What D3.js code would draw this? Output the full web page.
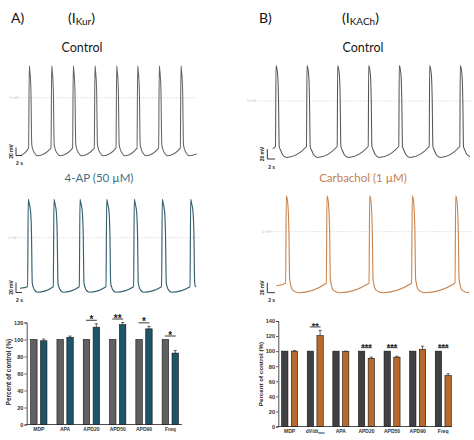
<!DOCTYPE html>
<html><head><meta charset="utf-8">
<script src="https://cdn.jsdelivr.net/npm/d3@7"></script>
<style>body{margin:0;background:#fff}svg{display:block}</style>
</head><body>
<svg id="c" width="474" height="440"></svg>
<script>
// ---------- bar chart data ----------
const barCatsA = ["MDP","APA","APD20","APD50","APD90","Freq"];
const ctrlA = [100,100,100,100,100,100];
const drugA = [98.5,102.5,114.5,117.5,112.5,84];
const drugErrA = [2,1.5,4,2.5,3,3];
const sigA = ["","","*","**","*","*"];
const yTicksA = [0,20,40,60,80,100,120];

const barCatsB = ["MDP","dV/dt","APA","APD20","APD50","APD90","Freq"];
const ctrlB = [100,100,100,100,100,100,100];
const drugB = [100,120.5,99.5,90.5,92,102.5,67.5];
const drugErrB = [0.7,7,0.6,1.5,1.2,4,2.5];
const sigB = ["","**","","***","***","","***"];
const yTicksB = [0,20,40,60,80,100,120,140];

// ---------- trace data (time s, membrane potential mV read against each 20 mV bar) ----------
const ctrlA_spikes = [2.63,10.1,17.3,24.53,31.77,38.77,45.97,53.2];
const ctrlA_shape = [[0,-126],[0.23,80],[0.43,66],[0.77,22],[1.05,-116],[1.33,-127],[2.0,-138],[3.0,-145]];
const ctrlA_ends = [-145,-141];
const apA_spikes = [2.53,11.1,19.77,28.67,37.87,47.2,56.67];
const apA_shape = [[0,-98],[0.23,77],[0.55,68],[1.0,52],[1.3,8],[1.55,-90],[1.83,-98],[2.33,-105],[3.33,-109]];
const apA_ends = [-101,-96];
const ctrlB_spikes = [0.73,8.78,16.75,24.81,32.75,40.65,48.6];
const ctrlB_shape = [[0,-91],[0.13,71],[0.57,52],[0.78,2],[0.96,-91],[1.3,-98],[1.82,-107],[2.86,-113]];
const ctrlB_ends = [-95,-111];
const cchB_spikes = [2.42,12.99,24.08,35.14,46.42];
const cchB_shape = [[0,-103],[0.18,72],[0.52,60],[0.86,0],[1.04,-93],[1.22,-103],[1.82,-117],[3.38,-122]];
const cchB_ends = [-108,-120];

const svg = d3.select("#c");
svg.append("rect").attr("width",474).attr("height",440).attr("fill","#fff");

const HF = "Lato, 'Open Sans', sans-serif";
const AF = "'Liberation Sans', Arial, sans-serif";

// ---------- headings ----------
function heading(x, letter, sub, lx) {
  svg.append("text").attr("x", x).attr("y", 23).attr("font-family", HF).attr("font-size", 14)
    .attr("fill", "#111").text(letter);
  const t = svg.append("text").attr("x", lx).attr("y", 23).attr("font-family", HF)
    .attr("font-size", 14).attr("fill", "#111");
  t.append("tspan").text("(I");
  t.append("tspan").attr("font-size", 10).attr("dy", 2).text(sub);
  t.append("tspan").attr("dy", -2).text(")");
}
heading(11, "A)", "Kur", 68);
heading(259, "B)", "KACh", 342);

function title(x, y, txt, color) {
  svg.append("text").attr("x", x).attr("y", y).attr("text-anchor", "middle")
    .attr("font-family", HF).attr("font-size", txt === "Control" ? 12.5 : 11.5)
    .attr("fill", color).text(txt);
}
title(82, 52, "Control", "#1a1a1a");
title(363, 52, "Control", "#1a1a1a");
title(99, 182, "4-AP (50 \u00B5M)", "#3e6f85");
title(363, 182, "Carbachol (1 \u00B5M)", "#c4814f");

// ---------- traces ----------
function drawTrace(o) {
  const dur = o.dur;
  const x = d3.scaleLinear().domain([0, dur]).range([o.x0, o.x0 + dur * o.pxPerSec]);
  const y = d3.scaleLinear().domain([0, 20]).range([o.zeroY, o.zeroY - o.barPx]);
  const pts = [[0, o.ends[0]]];
  o.spikes.forEach(ts => o.shape.forEach(([dt, v]) => { if (ts + dt < dur - 0.01) pts.push([ts + dt, v]); }));
  pts.push([dur, o.ends[1]]);
  // 0 mV reference
  svg.append("line").attr("x1", o.zl[0]).attr("x2", o.zl[1]).attr("y1", y(0)).attr("y2", y(0))
    .attr("stroke", "#d0d0d0").attr("stroke-width", 0.8).attr("stroke-dasharray", "1.5,1.5");
  svg.append("text").attr("x", o.zlx).attr("y", y(0) + 1.4).attr("font-family", AF)
    .attr("font-size", 3.8).attr("fill", "#c8c8c8").text("0 mV");
  // trace
  svg.append("path").datum(pts)
    .attr("d", d3.line().x(d => x(d[0])).y(d => y(d[1])).curve(d3.curveMonotoneX))
    .attr("fill", "none").attr("stroke", o.color).attr("stroke-width", o.sw).attr("stroke-linejoin", "round");
  // scale bar 20 mV / 2 s
  const cx = o.bar[0], cy = o.bar[1];
  const vLen = y(0) - y(20), hLen = x(2) - x(0);
  svg.append("path").attr("d", `M${cx},${cy - vLen}V${cy}H${cx + hLen}`)
    .attr("fill", "none").attr("stroke", "#222").attr("stroke-width", 0.9);
  svg.append("text").attr("transform", `translate(${cx - 3.2},${cy - vLen / 2}) rotate(-90)`)
    .attr("text-anchor", "middle").attr("font-family", AF).attr("font-weight", "bold")
    .attr("font-size", 5).attr("fill", "#222").text("20 mV");
  svg.append("text").attr("x", cx + hLen / 2 + 0.5).attr("y", cy + 9.5).attr("text-anchor", "middle")
    .attr("font-family", AF).attr("font-weight", "bold").attr("font-size", 5).attr("fill", "#222").text("2 s");
}

drawTrace({x0: 20.7, pxPerSec: 3, dur: 58.67, zeroY: 97.7, barPx: 8, spikes: ctrlA_spikes, shape: ctrlA_shape,
  ends: ctrlA_ends, color: "#636363", sw: 1.05, zl: [17, 197], zlx: 9.5, bar: [16, 155.5]});
drawTrace({x0: 20, pxPerSec: 3, dur: 58.57, zeroY: 237.7, barPx: 10, spikes: apA_spikes, shape: apA_shape,
  ends: apA_ends, color: "#35606f", sw: 1.15, zl: [15, 200], zlx: 8, bar: [16, 292.5]});
drawTrace({x0: 272.7, pxPerSec: 3.85, dur: 51.25, zeroY: 101, barPx: 10, spikes: ctrlB_spikes, shape: ctrlB_shape,
  ends: ctrlB_ends, color: "#555", sw: 1.05, zl: [255, 472], zlx: 247, bar: [267.3, 159]});
drawTrace({x0: 276.3, pxPerSec: 3.85, dur: 50.05, zeroY: 231.7, barPx: 10, spikes: cchB_spikes, shape: cchB_shape,
  ends: cchB_ends, color: "#c9834b", sw: 1.1, zl: [270, 472], zlx: 262, bar: [267.3, 292.7]});

// ---------- bar charts ----------
function barChart(o) {
  const rows = o.cats.map((c, i) => ({c, ctrl: o.ctrl[i], drug: o.drug[i], err: o.err[i], sig: o.sig[i]}));
  const y = d3.scaleLinear().domain([0, o.yMax]).range([o.zeroY, o.topY]);
  const x0 = d3.scaleBand().domain(o.cats).range([o.axisX, o.end]).paddingInner(o.pi).paddingOuter(o.po);
  const x1 = d3.scaleBand().domain(["ctrl", "drug"]).range([0, x0.bandwidth()]).paddingInner(0.35);
  const g = svg.append("g");
  const grp = g.selectAll("g.grp").data(rows).join("g").attr("transform", d => `translate(${x0(d.c)},0)`);
  grp.append("rect").attr("x", x1("ctrl")).attr("width", x1.bandwidth())
    .attr("y", d => y(d.ctrl)).attr("height", d => y(0) - y(d.ctrl))
    .attr("fill", o.ctrlColor).attr("stroke", "#111").attr("stroke-width", 0.6);
  grp.append("rect").attr("x", x1("drug")).attr("width", x1.bandwidth())
    .attr("y", d => y(d.drug)).attr("height", d => y(0) - y(d.drug))
    .attr("fill", o.drugColor).attr("stroke", "#111").attr("stroke-width", 0.6);
  const ex = x1("drug") + x1.bandwidth() / 2;
  grp.append("path").attr("d", d => `M${ex},${y(d.drug)}V${y(d.drug + d.err)}M${ex - 1.6},${y(d.drug + d.err)}h3.2`)
    .attr("stroke", "#222").attr("stroke-width", 0.7).attr("fill", "none");
  // significance
  const sg = grp.filter(d => d.sig);
  const cxC = x1("ctrl") + x1.bandwidth() / 2;
  const by = d => Math.min(y(d.ctrl), y(d.drug + d.err)) - 3.5;
  sg.append("line").attr("x1", cxC - 0.5).attr("x2", ex + 0.5).attr("y1", by).attr("y2", by)
    .attr("stroke", "#222").attr("stroke-width", 0.9);
  sg.append("text").attr("x", (cxC + ex) / 2).attr("y", d => by(d) + o.starSize * 0.28 - 0.2).attr("text-anchor", "middle")
    .attr("font-family", AF).attr("font-weight", "bold").attr("font-size", o.starSize).attr("fill", "#222").text(d => d.sig);
  // axes
  const ya = g.append("g").attr("transform", `translate(${o.axisX},0)`)
    .call(d3.axisLeft(y).tickValues(o.ticks).tickSize(2.3).tickPadding(1));
  ya.select(".domain").attr("stroke", "#222").attr("stroke-width", 0.8);
  ya.selectAll(".tick line").attr("stroke", "#222").attr("stroke-width", 0.7);
  ya.selectAll(".tick text").attr("font-family", AF).attr("font-weight", "bold").attr("font-size", 5.6).attr("fill", "#333");
  g.append("line").attr("x1", o.axisX).attr("x2", o.axisEnd).attr("y1", y(0)).attr("y2", y(0))
    .attr("stroke", "#222").attr("stroke-width", 0.8);
  const lab = g.selectAll("text.cat").data(o.cats).join("text").attr("class", "cat")
    .attr("x", d => x0(d) + x0.bandwidth() / 2).attr("y", y(0) + 6.5).attr("text-anchor", "middle")
    .attr("font-family", AF).attr("font-weight", "bold").attr("font-size", 5).attr("fill", "#333");
  lab.each(function (d) {
    const t = d3.select(this);
    if (d === "dV/dt") {
      t.append("tspan").text("dV/dt");
      t.append("tspan").attr("font-size", 3.2).attr("dy", 1).text("max");
    } else t.text(d);
  });
  g.append("text").attr("transform", `translate(${o.labX},${o.labY}) rotate(-90)`).attr("text-anchor", "middle")
    .attr("font-family", AF).attr("font-weight", "bold").attr("font-size", o.labSize).attr("fill", "#222")
    .text("Percent of control (%)");
}

barChart({cats: barCatsA, ctrl: ctrlA, drug: drugA, err: drugErrA, sig: sigA, ticks: yTicksA, yMax: 120,
  zeroY: 424.5, topY: 322.5, axisX: 26.7, end: 182.4, axisEnd: 182, pi: 0.38, po: 0.15,
  ctrlColor: "#606060", drugColor: "#1d5468", labX: 10.5, labY: 372, labSize: 6.4, starSize: 10});
barChart({cats: barCatsB, ctrl: ctrlB, drug: drugB, err: drugErrB, sig: sigB, ticks: yTicksB, yMax: 140,
  zeroY: 426.5, topY: 321, axisX: 278.3, end: 454.6, axisEnd: 452, pi: 0.375, po: 0.13,
  ctrlColor: "#3e4043", drugColor: "#b8692b", labX: 263, labY: 374, labSize: 6.2, starSize: 9});
</script>
</body></html>
